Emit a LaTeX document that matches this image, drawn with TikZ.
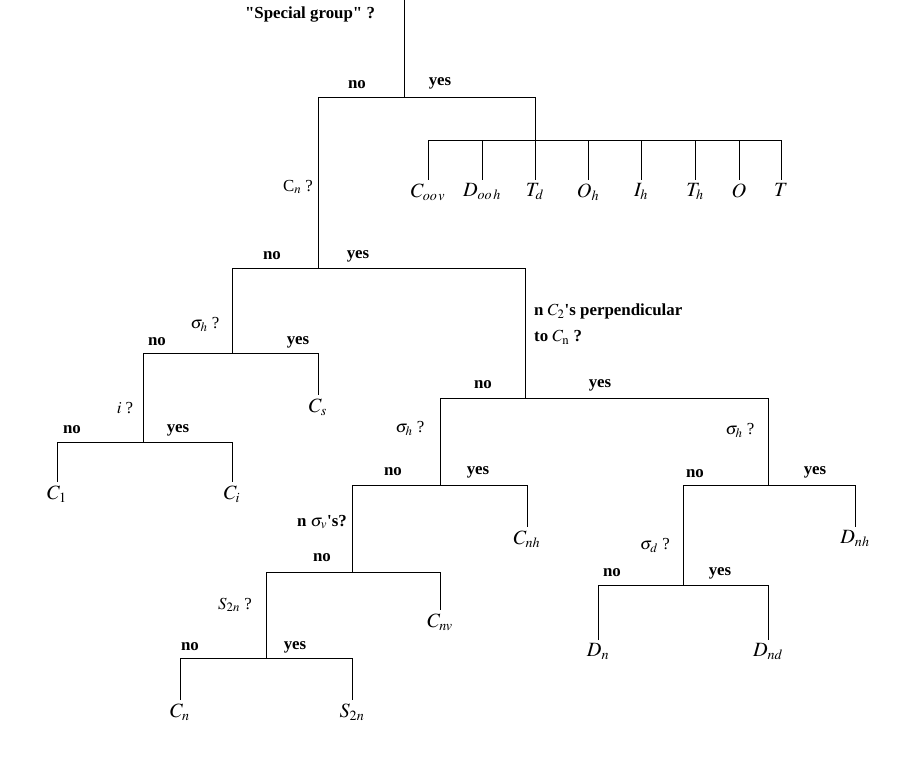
\documentclass[tikz,border=0pt]{standalone}
\usepackage{mathptmx}
\usepackage{fontspec}
\setmainfont{Liberation Serif}[Ligatures=TeXOff]
\begin{document}
\begin{tikzpicture}[x=0.03cm,y=-0.03cm]
	\tikzstyle{leaf}=[anchor=north, inner sep=3pt, font=\LARGE\itshape]
	\tikzstyle{ask}=[font=\Large]
	\tikzstyle{ans}=[font=\Large\bfseries]
	\tikzstyle{connect}=[semithick]
	\useasboundingbox (0,0) rectangle (918,764);
	% questions
	\node[ask] (q0) at (310,15) {\textbf{"Special group" ?}};
	\node[ask] (q1) at (298,187) {C$_n$ ?};
	\node[ask] (q2) at (205,324) {$\sigma_h$ ?};
	\node[ask] (q3) at (125,408) {$i$ ?};
	\node[ask, align=left, anchor=west] (q4) at (530,324) {\textbf{n $C_2$'s perpendicular}\\[4pt]\textbf{to $C_{\rm n}$ ?}};
	\node[ask] (q5) at (410,428) {$\sigma_h$ ?};
	\node[ask] (q6) at (322,522) {\textbf{n $\sigma_v$'s?}};
	\node[ask] (q7) at (235,605) {$S_{2n}$ ?};
	\node[ask] (q8) at (740,430) {$\sigma_h$ ?};
	\node[ask] (q9) at (655,545) {$\sigma_d$ ?};
	% split points
	\coordinate (s0) at (404,97);  \coordinate (t0) at (404,0);
	\coordinate (s1) at (318,268);
	\coordinate (s2) at (232,353);
	\coordinate (s3) at (143,442);
	\coordinate (s4) at (525,398);
	\coordinate (s5) at (440,485);
	\coordinate (s6) at (352,572);
	\coordinate (s7) at (266,658);
	\coordinate (s8) at (768,485);
	\coordinate (s9) at (683,585);
	\coordinate (sp) at (535,140);
	% leaves
	\foreach \x/\n/\t in {428/l1/{C_{oo\,v}},482/l2/{D_{oo\,h}},535/l3/{T_d},588/l4/{O_h},641/l5/{I_h},695/l6/{T_h},739/l7/{O},781/l8/{T}}
		\node[leaf] (\n) at (\x,180) {$\t$};
	\node[leaf] (cs) at (318,395) {$C_s$};
	\node[leaf] (c1) at (57,482) {$C_1$};
	\node[leaf] (ci) at (232,482) {$C_i$};
	\node[leaf] (cnh) at (527,527) {$C_{nh}$};
	\node[leaf] (cnv) at (440,610) {$C_{nv}$};
	\node[leaf] (cn) at (180,700) {$C_n$};
	\node[leaf] (s2n) at (352,700) {$S_{2n}$};
	\node[leaf] (dnh) at (855,527) {$D_{nh}$};
	\node[leaf] (dn) at (598,640) {$D_n$};
	\node[leaf] (dnd) at (768,640) {$D_{nd}$};
	% lines
	\draw[connect] (t0) -- (s0);
	\draw[connect] (s1) -- (s1 |- s0) -- (sp |- s0) -- (sp);
	\draw[connect] (l1.north) -- (l1.north |- sp) -- (l8.north |- sp) -- (l8.north);
	\foreach \n in {l2,l3,l4,l5,l6,l7} \draw[connect] (\n.north) -- (\n.north |- sp);
	\draw[connect] (s2) -- (s2 |- s1) -- (s4 |- s1) -- (s4);
	\draw[connect] (s3) -- (s3 |- s2) -- (cs.north |- s2) -- (cs.north);
	\draw[connect] (c1.north) -- (c1.north |- s3) -- (ci.north |- s3) -- (ci.north);
	\draw[connect] (s5) -- (s5 |- s4) -- (s8 |- s4) -- (s8);
	\draw[connect] (s6) -- (s6 |- s5) -- (cnh.north |- s5) -- (cnh.north);
	\draw[connect] (s7) -- (s7 |- s6) -- (cnv.north |- s6) -- (cnv.north);
	\draw[connect] (cn.north) -- (cn.north |- s7) -- (s2n.north |- s7) -- (s2n.north);
	\draw[connect] (s9) -- (s9 |- s8) -- (dnh.north |- s8) -- (dnh.north);
	\draw[connect] (dn.north) -- (dn.north |- s9) -- (dnd.north |- s9) -- (dnd.north);
	% answers
	\foreach \x/\y/\t in {357/85/no,440/83/yes,272/256/no,358/256/yes,157/342/no,298/342/yes,72/430/no,178/430/yes,483/385/no,600/385/yes,393/472/no,478/472/yes,322/558/no,190/647/no,295/647/yes,695/474/no,815/472/yes,612/573/no,720/573/yes}
		\node[ans] at (\x,\y) {\t};
\end{tikzpicture}
\end{document}
